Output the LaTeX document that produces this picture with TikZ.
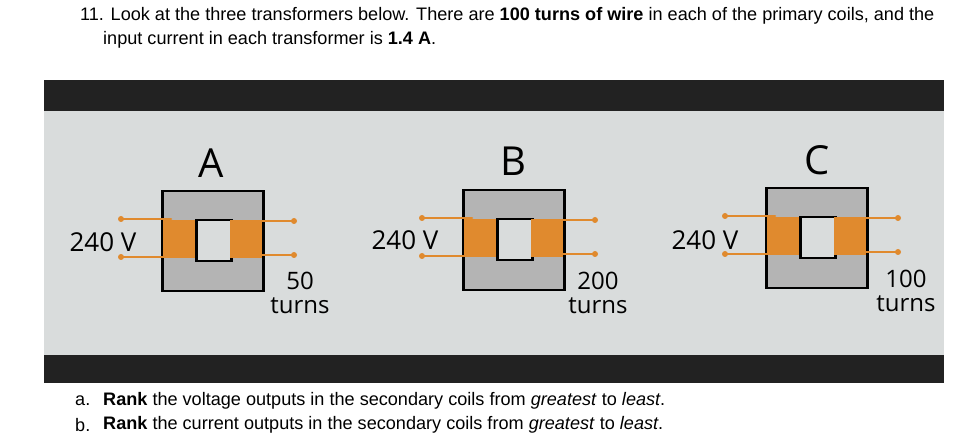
\documentclass[tikz,border=0pt]{standalone}
\usepackage{fontspec}
\setmainfont{Liberation Sans}
\newfontfamily\hand{Open Sans}
\definecolor{photo}{HTML}{D9DCDC}
\definecolor{core}{HTML}{B4B4B4}
\definecolor{coil}{HTML}{E08A2E}
\definecolor{bar}{HTML}{222222}
\tikzset{
  txt/.style={anchor=west,inner sep=0,font=\fontsize{18.1}{21}\selectfont},
  corebox/.style={fill=core,draw=black,line width=2.5pt},
  holebox/.style={fill=photo,draw=black,line width=2.5pt},
  coilbox/.style={fill=coil,draw=none},
  lead/.style={coil,line width=2.6pt,line cap=round},
  big/.style={inner sep=0,font=\hand\fontsize{40}{40}\selectfont},
  volt/.style={inner sep=0,font=\hand\fontsize{26}{26}\selectfont},
  turns/.style={inner sep=0,font=\hand\fontsize{24}{24}\selectfont,align=center}
}
\newcommand{\xfmr}[3]{% x0 y0 name
  \begin{scope}[shift={(#1,#2)}]
    \node[corebox,minimum width=101pt,minimum height=100pt,anchor=north west,inner sep=0] (core#3) at (0,0) {};
    \coordinate (p1#3) at (-40,-29);
    \coordinate (p2#3) at (-40,-67);
    \coordinate (s1#3) at (133,-31);
    \coordinate (s2#3) at (133,-65);
    \draw[lead] (p1#3) -- (10,-29);
    \draw[lead] (p2#3) -- (10,-67);
    \draw[lead] (s1#3) -- (90,-31);
    \draw[lead] (s2#3) -- (90,-65);
    \fill[coil] (p1#3) circle (3pt) (p2#3) circle (3pt) (s1#3) circle (3pt) (s2#3) circle (3pt);
    \node[holebox,minimum width=35pt,minimum height=41pt,anchor=north west,inner sep=0] (hole#3) at (34,-29) {};
    \fill[coilbox] (2,-30) rectangle (34,-68);
    \fill[coilbox] (69,-30) rectangle (101,-68);
  \end{scope}}
\begin{document}
\begin{tikzpicture}[x=1pt,y=1pt]
\useasboundingbox (0,0) rectangle (961,-446);
\fill[white] (0,0) rectangle (961,-446);
\node[txt] (q1) at (80,-16) {11. Look at the three transformers below. There are \textbf{100 turns of wire} in each of the primary coils, and the};
\node[txt] (q2) at (103,-40) {input current in each transformer is \textbf{1.4 A}.};
\fill[bar] (44,-80) rectangle (944,-383);
\fill[photo] (44,-111) rectangle (944,-355);
\xfmr{161}{-190}{A}
\xfmr{462}{-189}{B}
\xfmr{765}{-187}{C}
\node[big] (la) at (211,-163) {A};
\node[big] (lb) at (513,-161) {B};
\node[big] (lc) at (817,-160) {C};
\node[volt] (va) at (103,-242) {240 V};
\node[volt] (vb) at (405,-240) {240 V};
\node[volt] (vc) at (705,-240) {240 V};
\node[turns] (ta) at (300,-293) {50\\turns};
\node[turns] (tb) at (598,-293) {200\\turns};
\node[turns] (tc) at (906,-291) {100\\turns};
\node[txt] (a) at (75,-401) {a.};
\node[txt] (at) at (103,-401) {\textbf{Rank} the voltage outputs in the secondary coils from \textit{greatest} to \textit{least}.};
\node[txt] (b) at (75,-425) {b.};
\node[txt] (bt) at (103,-425) {\textbf{Rank} the current outputs in the secondary coils from \textit{greatest} to \textit{least}.};
\end{tikzpicture}
\end{document}
